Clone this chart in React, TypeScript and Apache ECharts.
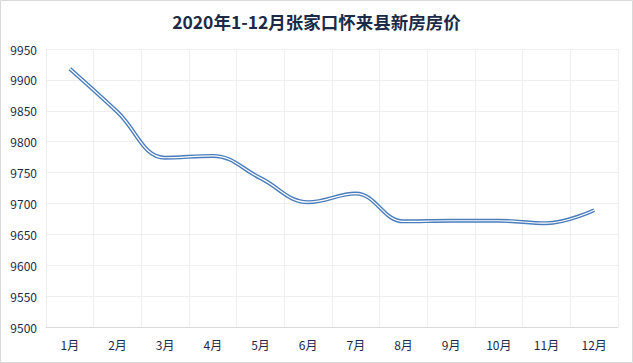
import React, { useEffect, useRef } from "react";
import * as echarts from "echarts";

const titleText = "2020年1-12月张家口怀来县新房房价";
const months = ["1月", "2月", "3月", "4月", "5月", "6月", "7月", "8月", "9月", "10月", "11月", "12月"];
const prices = [9918, 9848, 9774, 9777, 9741, 9702, 9716, 9671, 9672, 9672, 9668, 9689];
const yMin = 9500;
const yMax = 9950;
const yStep = 50;

export default function App() {
  const ref = useRef<HTMLDivElement>(null);
  useEffect(() => {
    if (!ref.current) return;
    const chart = echarts.init(ref.current, undefined, { renderer: "svg" });
    const textColor = "#1c2a48";
    chart.setOption({
      animation: false,
      backgroundColor: "#ffffff",
      title: {
        text: titleText,
        left: "center",
        top: 8,
        textStyle: {
          fontFamily: "Noto Sans CJK SC",
          fontSize: 17.5,
          fontWeight: "bold",
          color: textColor,
        },
      },
      graphic: [
        {
          type: "rect",
          shape: { x: 0.5, y: 0.5, width: 632, height: 362 },
          style: { fill: "none", stroke: "#d9d9d9", lineWidth: 1 },
          silent: true,
        },
      ],
      grid: { left: 46, right: 15, top: 49, bottom: 36, containLabel: false },
      xAxis: {
        type: "category",
        data: months,
        boundaryGap: true,
        axisLine: { show: true, lineStyle: { color: "#d9d9d9", width: 1 } },
        axisTick: { show: false },
        splitLine: { show: true, lineStyle: { color: "#eeeeee", width: 1 } },
        axisLabel: {
          color: textColor,
          fontSize: 12,
          fontFamily: "Noto Sans CJK SC",
          margin: 11,
        },
      },
      yAxis: {
        type: "value",
        min: yMin,
        max: yMax,
        interval: yStep,
        axisLine: { show: false },
        axisTick: { show: false },
        splitLine: { show: true, lineStyle: { color: "#eeeeee", width: 1 } },
        axisLabel: {
          color: textColor,
          fontSize: 12,
          fontFamily: "Noto Sans CJK SC",
          margin: 9,
          formatter: (v: number) => String(v),
        },
      },
      series: [
        {
          type: "line",
          data: prices,
          smooth: 0.4,
          symbol: "none",
          lineStyle: { color: "#4a7dbc", width: 4 },
          z: 2,
        },
        {
          type: "line",
          data: prices,
          smooth: 0.4,
          symbol: "none",
          lineStyle: { color: "#ffffff", width: 1.2 },
          z: 3,
        },
      ],
    });
    return () => chart.dispose();
  }, []);
  return (
    <div
      ref={ref}
      style={{ position: "fixed", left: 0, top: 0, width: 633, height: 363 }}
    />
  );
}
